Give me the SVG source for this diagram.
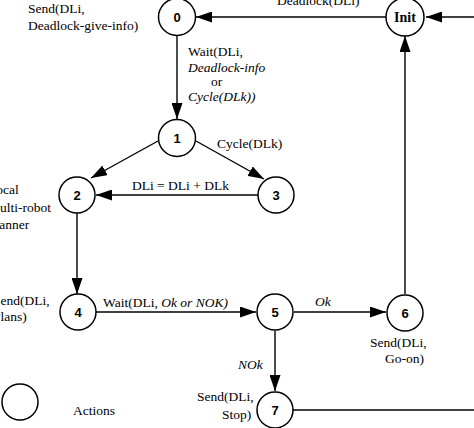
<svg xmlns="http://www.w3.org/2000/svg" width="474" height="428" viewBox="0 0 474 428">
<defs>
<marker id="arr" markerUnits="userSpaceOnUse" markerWidth="17" markerHeight="11" refX="16" refY="5.5" orient="auto">
<path d="M0,0 L16,5.5 L0,11 Z" fill="#000"/>
</marker>
<style>
.node circle{fill:#fff;stroke:#000;stroke-width:1.5}
.num{font-weight:bold;font-size:13px;text-anchor:middle}
.init{font-weight:bold;font-size:14px;text-anchor:middle}
.lbl{font-size:13.5px;fill:#000}
.it{font-style:italic}
#edges line{stroke:#000;stroke-width:1.4;fill:none}
</style>
</defs>
<rect width="474" height="428" fill="#fff"/>
<g id="edges">
<line x1="474" y1="17" x2="426" y2="17" marker-end="url(#arr)"/>
<line x1="387" y1="17" x2="196" y2="17" marker-end="url(#arr)"/>
<line x1="177" y1="36" x2="177" y2="119" marker-end="url(#arr)"/>
<line x1="158" y1="141" x2="91" y2="178" marker-end="url(#arr)"/>
<line x1="196" y1="141" x2="264" y2="179" marker-end="url(#arr)"/>
<line x1="258" y1="195" x2="96" y2="195" marker-end="url(#arr)"/>
<line x1="77" y1="213" x2="77" y2="294" marker-end="url(#arr)"/>
<line x1="96" y1="312" x2="256" y2="312" marker-end="url(#arr)"/>
<line x1="294" y1="312" x2="386" y2="312" marker-end="url(#arr)"/>
<line x1="275" y1="331" x2="275" y2="391" marker-end="url(#arr)"/>
<line x1="405" y1="294" x2="405" y2="36" marker-end="url(#arr)"/>
<line x1="293" y1="410" x2="474" y2="410"/>
</g>
<g font-family="Liberation Sans, Arial, sans-serif">
<g id="n0" class="node"><circle cx="177" cy="17" r="18.5"/><text class="num" x="177" y="22">0</text></g>
<g id="n1" class="node"><circle cx="177" cy="138" r="18.5"/><text class="num" x="177" y="143">1</text></g>
<g id="n2" class="node"><circle cx="77" cy="195" r="18"/><text class="num" x="77" y="200">2</text></g>
<g id="n3" class="node"><circle cx="276" cy="195" r="18"/><text class="num" x="276" y="200">3</text></g>
<g id="n4" class="node"><circle cx="78" cy="312" r="18"/><text class="num" x="78" y="317">4</text></g>
<g id="n5" class="node"><circle cx="275" cy="312" r="18"/><text class="num" x="275" y="317">5</text></g>
<g id="n6" class="node"><circle cx="405" cy="313" r="18"/><text class="num" x="405" y="318">6</text></g>
<g id="n7" class="node"><circle cx="275" cy="410" r="18"/><text class="num" x="275" y="415">7</text></g>
</g>
<g id="nInit" class="node" font-family="Liberation Serif, Times New Roman, serif"><circle cx="405" cy="17" r="19"/><text class="init" x="405" y="22">Init</text></g>
<g id="legend" class="node"><circle cx="20" cy="402" r="18"/></g>
<g id="labels" font-family="Liberation Serif, Times New Roman, serif">
<text class="lbl" x="28" y="13">Send(DLi,</text>
<text class="lbl" x="28" y="30">Deadlock-give-info)</text>
<text class="lbl" x="277" y="5">Deadlock(DLi)</text>
<text class="lbl" x="188" y="56">Wait(DLi,</text>
<text class="lbl it" x="188" y="72">Deadlock-info</text>
<text class="lbl" x="211" y="86">or</text>
<text class="lbl it" x="188" y="101">Cycle(DLk))</text>
<text class="lbl" x="217" y="148">Cycle(DLk)</text>
<text class="lbl" x="132" y="190">DLi = DLi + DLk</text>
<text class="lbl" x="-12" y="194">Local</text>
<text class="lbl" x="-12" y="212">Multi-robot</text>
<text class="lbl" x="-12" y="229">Planner</text>
<text class="lbl" x="-7" y="305">Send(DLi,</text>
<text class="lbl" x="-7" y="321">Plans)</text>
<text class="lbl" x="103" y="307">Wait(DLi, <tspan class="it">Ok or  NOK)</tspan></text>
<text class="lbl it" x="315" y="306">Ok</text>
<text class="lbl it" x="238" y="369">NOk</text>
<text class="lbl" x="370" y="347">Send(DLi,</text>
<text class="lbl" x="385" y="363">Go-on)</text>
<text class="lbl" x="197" y="401">Send(DLi,</text>
<text class="lbl" x="222" y="419">Stop)</text>
<text class="lbl" x="73" y="415">Actions</text>
</g>
</svg>
